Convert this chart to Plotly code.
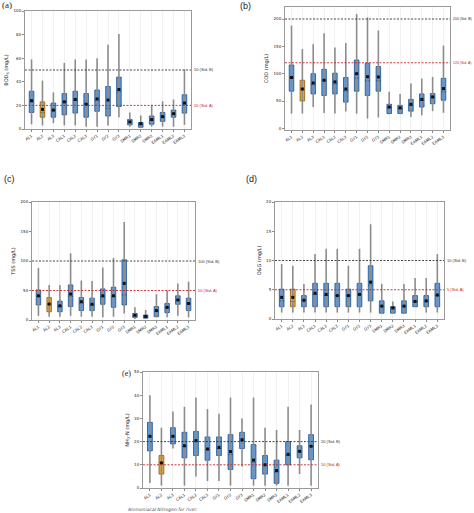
import plotly.graph_objects as go

W, H = 474, 513
sites = ["AL1", "AL2", "AL3", "CAL1", "CAL2", "CAL3", "GY1", "GY2", "GY3",
         "SMR1", "SMR2", "SMR3", "EAML1", "EAML2", "EAML3"]

# (a) BOD5
bod_low = [4, 3, 5, 3, 3, 2, 2, 3, 10, 2, 1, 2, 2, 2, 3.5]
bod_q1 = [14, 10, 10, 12, 13.5, 10, 15, 11, 19, 3.5, 1.5, 4, 6.5, 10, 13.5]
bod_med = [23, 14, 16, 23, 24, 21, 24, 17.5, 31.5, 6, 4, 7.5, 10, 13, 21]
bod_q3 = [32, 23, 22, 30, 32, 30, 33, 36, 44, 8, 5.5, 11, 14, 16, 29]
bod_high = [59, 41, 31, 56, 59, 59, 60, 71.5, 80.5, 14, 11.5, 20.5, 23.5, 25, 50.5]
bod_mean = [24, 16.6, 16, 23, 25, 21, 25.5, 24.5, 33.5, 6, 4.5, 8, 10.5, 13, 22]

# (b) COD
cod_low = [27, 27, 39, 28, 27, 31, 27, 18, 20, 28, 27, 21, 24, 31.5, 28.5]
cod_q1 = [68, 50, 63, 60, 63, 48, 68, 60, 68, 27, 27, 31.5, 39, 45, 51.5]
cod_med = [93, 72, 80, 88, 81, 68, 92, 87, 87, 38, 36, 42, 51, 57, 66.7]
cod_q3 = [116, 88, 100, 108, 101, 93, 125, 119, 113, 44, 42, 53, 63, 63.6, 91.5]
cod_high = [188, 145, 154, 174, 148, 156, 209, 203, 179, 67, 63, 82, 91, 94, 151.5]
cod_mean = [93, 72, 83, 88, 85, 72, 100, 94.5, 94, 39, 37.5, 44, 53, 57.5, 72.7]

# (c) TSS
tss_low = [7, 5.5, 5.5, 7, 5.5, 5.5, 4.5, 5.5, 11, 1.7, 1.7, 4.5, 4.5, 7.4, 4.5]
tss_q1 = [25.5, 14, 14, 22.7, 16, 16, 26.6, 21.5, 25.5, 4.5, 3, 5.7, 12.5, 26.6, 16]
tss_med = [40, 27, 23, 40, 29, 26, 39, 40, 42.5, 7.5, 6, 15, 21, 33, 28]
tss_q3 = [51, 38, 32, 59.5, 38, 37, 52.7, 55.5, 102, 11, 8.5, 22.7, 28, 41, 37]
tss_high = [88, 59.5, 59.5, 113, 67, 66, 89, 105, 166, 21.5, 17, 44, 50, 62, 65]
tss_mean = [41, 27, 24, 44, 31, 26.6, 41, 41, 62, 8, 6, 16, 21.5, 34, 28]

# (d) O&G
og_low = [1.1, 1.1, 1.1, 1.1, 1.1, 1.1, 1.1, 1.1, 1.1, 1, 1, 1, 2.1, 1.1, 1.1]
og_q1 = [2.1, 2.1, 2.1, 2.1, 2.1, 2.1, 2.1, 2.1, 3.1, 1, 1, 1, 2.1, 2.1, 2.1]
og_med = [3.1, 3.0, 3.2, 4.2, 4.0, 4.0, 4.0, 4.2, 5.8, 2.2, 1.9, 2.2, 3.0, 3.0, 4.0]
og_q3 = [5.1, 5.1, 4.0, 6.1, 6.1, 6.1, 5.1, 6.1, 9.1, 3.1, 2.1, 3.1, 4.0, 4.0, 6.1]
og_high = [9.4, 9.1, 6.0, 11.1, 12, 12, 9.1, 12, 16.2, 6, 3, 6, 7, 7, 11.1]
og_mean = [3.7, 3.7, 3.2, 4.4, 4.2, 4.0, 4.0, 4.2, 6.3, 2.2, 1.9, 2.2, 3.0, 3.1, 4.1]

# (e) NH3-N
nh_low = [2.2, 1, 17, 1, 5, 3, 3, 1, 9.3, 1, 1, 1, 1, 6, 1]
nh_q1 = [16, 6, 19, 13, 14, 12, 14, 8, 17, 4, 6, 2, 10, 13, 12.2]
nh_med = [22, 11, 22, 18, 20, 16.5, 17, 14.4, 20.5, 11, 10, 6.9, 14, 15.8, 18]
nh_q3 = [28.3, 14, 26, 24, 24.4, 22, 22, 23, 24, 18.7, 14, 12, 20, 18.2, 23]
nh_high = [40, 26, 33, 35, 39, 34, 32, 39, 30, 39, 26, 25, 35, 25, 36]
nh_mean = [22.3, 10.8, 22.3, 18.2, 20.4, 16.8, 17.5, 15.7, 20.8, 12, 10, 7.5, 14.5, 15.8, 18]

panels = [
    dict(ytitle="BOD<sub>5</sub> (mg/L)", yr=[0, 100], dt=20, lsize=4,
         std=[(50, "50 (Std. B)", "#333333"), (20, "20 (Std. A)", "#cc2222")],
         data=(bod_low, bod_q1, bod_med, bod_q3, bod_high, bod_mean),
         box=(25, 191, 11, 129)),
    dict(ytitle="COD (mg/L)", yr=[-3, 222], dt=50, lsize=3.5,
         std=[(200, "200 (Std. B)", "#333333"), (120, "120 (Std. A)", "#cc2222")],
         data=(cod_low, cod_q1, cod_med, cod_q3, cod_high, cod_mean),
         box=(285, 450, 7, 130)),
    dict(ytitle="TSS (mg/L)", yr=[0, 200], dt=50, lsize=4,
         std=[(100, "100 (Std. B)", "#333333"), (50, "50 (Std. A)", "#cc2222")],
         data=(tss_low, tss_q1, tss_med, tss_q3, tss_high, tss_mean),
         box=(32, 195, 202, 320)),
    dict(ytitle="O&G (mg/L)", yr=[0, 20], dt=5, lsize=4,
         std=[(10, "10 (Std. B)", "#333333"), (5, "5 (Std. A)", "#cc2222")],
         data=(og_low, og_q1, og_med, og_q3, og_high, og_mean),
         box=(275, 444, 202, 319)),
    dict(ytitle="NH<sub>3</sub>-N (mg/L)", yr=[0, 50], dt=10, lsize=4,
         std=[(20, "20 (Std. B)", "#333333"), (10, "10 (Std. A)", "#cc2222")],
         data=(nh_low, nh_q1, nh_med, nh_q3, nh_high, nh_mean),
         box=(143, 318, 372, 488)),
]

fig = go.Figure()
BLUE, BLUE_EDGE = "#5a9be0", "#1d4f8f"
ORANGE, ORANGE_EDGE = "#f0a830", "#8a5a10"

for k, p in enumerate(panels):
    n = "" if k == 0 else str(k + 1)
    xa, ya = "x" + n, "y" + n
    low, q1, med, q3, high, mean = p["data"]
    wx, wy = [], []
    for i, s in enumerate(sites):
        wx += [s, s, None]
        wy += [low[i], high[i], None]
    fig.add_trace(go.Scatter(x=wx, y=wy, mode="lines", line=dict(color="#8c8c8c", width=1.6),
                             xaxis=xa, yaxis=ya, hoverinfo="skip", showlegend=False))
    for i, s in enumerate(sites):
        orange = (s == "AL2")
        fig.add_trace(go.Box(
            x=[s], q1=[q1[i]], median=[med[i]], q3=[q3[i]],
            lowerfence=[q1[i]], upperfence=[q3[i]],
            fillcolor=ORANGE if orange else BLUE,
            line=dict(color=ORANGE_EDGE if orange else BLUE_EDGE, width=0.8),
            width=0.42, whiskerwidth=0, boxpoints=False,
            xaxis=xa, yaxis=ya, showlegend=False))
    fig.add_trace(go.Scatter(x=sites, y=mean, mode="markers",
                             marker=dict(symbol="square", color="#111111", size=3),
                             xaxis=xa, yaxis=ya, showlegend=False, hoverinfo="skip"))
    x0, x1, y0, y1 = p["box"]
    common = dict(showline=True, mirror=True, linecolor="#9a9a9a", linewidth=1,
                  ticks="outside", ticklen=2, tickcolor="#888", automargin=False,
                  tickfont=dict(size=4, color="#222", family="DejaVu Sans"))
    fig.layout["xaxis" + n] = dict(domain=[x0 / W, x1 / W], anchor=ya, type="category",
                                   categoryorder="array", categoryarray=sites,
                                   range=[-0.6, 14.6], tickangle=-35,
                                   showgrid=True, gridcolor="#f1f1f1", gridwidth=1, **common)
    fig.layout["yaxis" + n] = dict(domain=[1 - y1 / H, 1 - y0 / H], anchor=xa, range=p["yr"],
                                   dtick=p["dt"], tick0=0, showgrid=False, zeroline=False,
                                   title=dict(text=p["ytitle"], standoff=4,
                                              font=dict(size=5, color="#222", family="DejaVu Sans")),
                                   **common)
    for val, txt, col in p["std"]:
        fig.add_shape(type="line", xref=xa + " domain", yref=ya, x0=0, x1=1, y0=val, y1=val,
                      line=dict(color=col, width=0.9, dash="2px,1.5px"))
        fig.add_annotation(xref=xa + " domain", yref=ya, x=1.006, y=val, text=txt,
                           showarrow=False, xanchor="left", yanchor="middle",
                           font=dict(size=p["lsize"], color=col, family="Liberation Sans"))

labels_pos = [(0, 5, "(a)", "Liberation Serif", 9), (238, 6, "(b)", "Liberation Sans", 9),
              (2, 179, "(c)", "Liberation Sans", 9), (244, 179, "(d)", "Liberation Sans", 9),
              (120, 373, "(e)", "Liberation Serif", 8)]
for px, py, t, f, sz in labels_pos:
    fig.add_annotation(xref="paper", yref="paper", x=px / W, y=1 - py / H, text=t,
                       showarrow=False, xanchor="left", yanchor="middle",
                       font=dict(size=sz, color="#222", family=f))

fig.add_annotation(xref="paper", yref="paper", x=125 / W, y=1 - 509 / H,
                   text="<i>Ammoniacal Nitrogen for river.</i>", showarrow=False,
                   xanchor="left", yanchor="middle",
                   font=dict(size=4.5, color="#555", family="DejaVu Sans"))

fig.update_layout(width=W, height=H, margin=dict(l=0, r=0, t=0, b=0),
                  paper_bgcolor="white", plot_bgcolor="white", showlegend=False)

fig.write_html("out.html", config={"displayModeBar": False})
